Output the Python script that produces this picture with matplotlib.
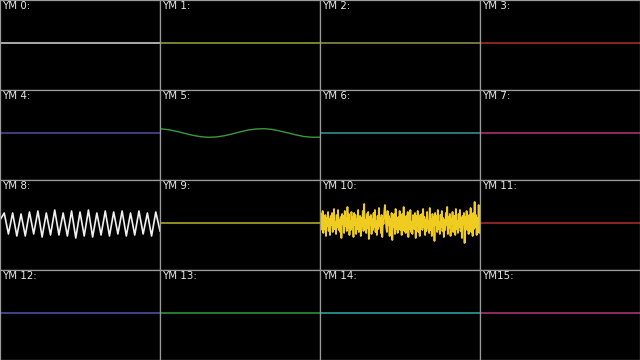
import numpy as np
import matplotlib
matplotlib.use("Agg")
import matplotlib.pyplot as plt

# ---- data ----
labels = ["YM 0:", "YM 1:", "YM 2:", "YM 3:",
          "YM 4:", "YM 5:", "YM 6:", "YM 7:",
          "YM 8:", "YM 9:", "YM 10:", "YM 11:",
          "YM 12:", "YM 13:", "YM 14:", "YM15:"]

flat = [0, 0]

ym5 = [4.2, 3.4, 1.8, -0.2, -2.15, -3.6, -4.3, -4.0, -2.8, -1.0, 1.1,
       2.9, 4.0, 4.3, 3.6, 2.0, 0.1, -1.9, -3.5, -4.25, -4.2]

ym8 = [3, 10, -11, 10, -13, 9, -13, 11, -11, 12, -14, 10, -12, 13, -12, 10,
       -13, 12, -15, 11, -13, 13, -14, 10, -12, 12, -13, 11, -11, 12, -13,
       10, -12, 12, -11, 10, -13, 11, -8]

ym10 = [3, -7, 9, -4, 12, -10, 2, -6, 8, -13, 5, -3, 11, -8, 4, -12, 7, -2, 10, -9,
        -5, 14, -6, 1, -11, 8, -4, 13, -7, 3, -9, 6, -15, 9, -1, 7, -10, 12, -3, 5,
        -8, 16, -5, 9, -12, 2, -7, 11, -4, 6, -14, 10, -2, 8, -11, 4, -6, 13, -9, 1,
        7, -13, 5, -3, 12, -8, 19, -6, 3, -10, 9, -5, 11, -16, 6, -2, 8, -11, 4, -7,
        10, -4, 13, -9, 2, -12, 7, -6, 15, -3, 5, -10, 8, -14, 3, -1, 11, 18, 6, -5,
        -9, 12, -2, 7, -13, 4, -8, 10, -17, 5, -4, 9, -11, 14, -6, 2, -10, 6, -3, 12,
        -7, 3, -12, 9, -5, 16, -8, 4, -10, 7, -2, 11, -14, 5, -6, 13, -9, 1, -11, 8,
        4, -6, 10, -15, 7, -3, 12, -9, 5, -13, 8, -1, 9, -7, 14, -4, 6, -12, 3, -8,
        11, -5, 2, -10, 15, -7, 4, -13, 9, -3, 6, -18, 10, -2, 7, -9, 13, -6, 1, -11,
        8, -4, 12, -8, 5, -14, 3, -7, 10, -2, 16, -11, 6, -5, 9, -13, 4, -1, 11, -9,
        -3, 7, -12, 14, -6, 2, -10, 9, -4, 13, -8, 5, -15, 7, -1, 10, -20, 6, -3, 12,
        -7, 4, -11, 8, -5, 15, -9, 3, -13, 10, -6, 21, -4, 8, -12, 5, -8, 18, -10, 6]

series = [flat, flat, flat, flat,
          flat, ym5, flat, flat,
          ym8, flat, ym10, flat,
          flat, flat, flat, flat]

# ---- style ----
colors = ["#c8c8c8", "#8c9a30", "#8a8a45", "#a82a2a",
          "#4e4494", "#3a9a3a", "#2e8e8e", "#a8306e",
          "#f0f0f0", "#a8a82a", "#f0cc20", "#a82a2a",
          "#4e4ea0", "#2a923a", "#2e9e9e", "#a83274"]

fig, axes = plt.subplots(4, 4, figsize=(6.4, 3.6), dpi=100)
fig.patch.set_facecolor("black")
fig.subplots_adjust(left=0, right=1, bottom=0, top=1, wspace=0, hspace=0)

for i, ax in enumerate(axes.flat):
    ax.set_facecolor("black")
    y = np.array(series[i], dtype=float)
    x = np.linspace(0, 160, len(y))
    lw = 1.2
    if i == 10:
        lw = 1.3
    elif i == 5:
        lw = 1.0
    ax.plot(x, y, color=colors[i], lw=lw)
    ax.set_xlim(0, 160)
    ax.set_ylim(-47, 43)
    ax.set_xticks([])
    ax.set_yticks([])
    for s in ax.spines.values():
        s.set_color("#9a9a9a")
        s.set_linewidth(0.9)
    ax.text(0.012, 0.985, labels[i], transform=ax.transAxes, ha="left", va="top",
            color="#e6e6e6", fontsize=7.4, family="DejaVu Sans")

fig.savefig("out.png", dpi=100, facecolor="black")
